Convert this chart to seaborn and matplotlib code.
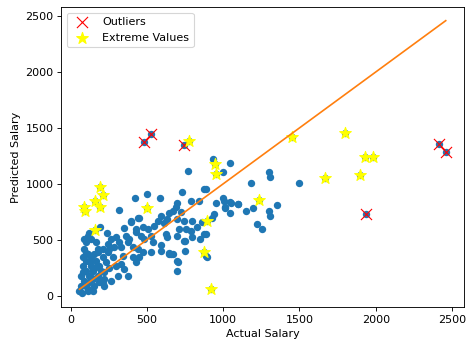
import matplotlib
matplotlib.use("Agg")
import matplotlib.pyplot as plt
import seaborn as sns
import pandas as pd

# Actual vs predicted salary

actual = [
    482, 528, 744, 2413, 2459, 1938,
    774, 195, 212, 162, 195, 86, 92, 162, 500, 897, 875, 918, 946, 955,
    1234, 1448, 1801, 1927, 1979, 1668, 1899,
    936, 1042, 999, 772, 1300, 1306, 1184, 875, 733, 498, 420, 583, 788,
    700, 842, 951, 999, 1005, 1049, 1099, 1010, 1147, 1197, 1300, 1306,
    1219, 1256, 319, 690, 668, 646, 722, 592, 635, 613, 570, 548, 443,
    395, 472, 428, 505, 348, 700, 744, 755, 711, 799, 831, 788, 864, 875,
    799, 700, 744, 635, 624, 526, 482, 461, 428, 384, 363, 297, 319, 286,
    374, 406, 439, 472, 526, 592, 646, 657, 700, 700, 428, 406, 341, 330,
    352, 374, 308, 265, 221, 276, 243, 232, 221,
    112, 134, 101, 90, 112, 134, 167, 178, 156, 167, 188, 199, 178, 145,
    123, 90, 69, 58, 75, 101, 80, 101, 134, 145, 123, 156, 188, 221, 210,
    210, 243, 265, 80, 80, 112, 145, 167, 90, 69, 101,
    398, 448, 195, 121, 897, 707, 750, 646, 668, 846, 750, 592, 537, 450,
    1042, 1097, 1350, 1042, 1012, 940, 925, 886, 886, 886, 1500,
    125, 150, 240, 260, 300, 330, 210, 180, 250, 100, 140, 115,
]
predicted = [
    1370, 1446, 1345, 1354, 1289, 727,
    1381, 968, 899, 843, 795, 790, 760, 587, 781, 664, 387, 60, 1176, 1087,
    854, 1423, 1453, 1236, 1241, 1051, 1080,
    1220, 1190, 1102, 1111, 1102, 1057, 1004, 953, 923, 908, 875, 870, 848,
    825, 848, 825, 878, 848, 825, 819, 789, 759, 783, 759, 714,
    640, 595, 768, 789, 759, 738, 745, 709, 685, 646, 670, 620, 697,
    670, 611, 596, 596, 602, 685, 670, 596, 596, 670, 611, 580, 655, 551,
    521, 536, 491, 521, 551, 536, 506, 536, 566, 506, 536, 521, 476, 432,
    476, 432, 417, 387, 387, 402, 372, 372, 313, 223, 298, 343, 357, 283,
    238, 179, 179, 134, 89, 343, 387, 298, 209,
    536, 506, 476, 417, 372, 343, 476, 417, 372, 313, 268, 223, 179, 149,
    119, 134, 89, 45, 20, 223, 268, 313, 268, 223, 179, 89, 119, 149, 343,
    417, 461, 506, 343, 209, 45, 45, 253, 506, 179, 89,
    661, 691, 611, 560, 343, 304, 402, 381, 372, 506, 491, 453, 476, 343,
    834, 819, 813, 736, 780, 729, 691, 551, 357, 953, 1009,
    300, 230, 560, 430, 270, 440, 110, 390, 250, 380, 160, 60,
]

outlier_x = [482, 528, 744, 2413, 2459, 1938]
outlier_y = [1370, 1446, 1345, 1354, 1289, 727]

extreme_x = [774, 195, 212, 162, 195, 86, 92, 162, 500, 897, 875, 918, 946, 955,
             1234, 1448, 1801, 1927, 1979, 1668, 1899]
extreme_y = [1381, 968, 899, 843, 795, 790, 760, 587, 781, 664, 387, 60, 1176, 1087,
             854, 1423, 1453, 1236, 1241, 1051, 1080]

df = pd.DataFrame({"actual": actual, "predicted": predicted})

fig = plt.figure(figsize=(474 / 80, 351 / 80), dpi=80)
ax = fig.add_subplot(111)
fig.subplots_adjust(left=0.129, right=0.979, bottom=0.125, top=0.980)

sns.scatterplot(data=df, x="actual", y="predicted", color="#1f77b4",
                s=44, linewidth=0, ax=ax)

lo, hi = min(actual), max(actual)
sns.lineplot(x=[lo, hi], y=[lo, hi], color="#ff7f0e", linewidth=1.5, ax=ax)

ax.scatter(outlier_x, outlier_y, marker="x", color="red", s=100,
           linewidths=1.0, label="Outliers")
ax.scatter(extreme_x, extreme_y, marker="*", color="yellow", s=120,
           label="Extreme Values")

ax.set_yticks([0, 500, 1000, 1500, 2000, 2500])
ax.set_xticks([0, 500, 1000, 1500, 2000, 2500])
ax.set_xlabel("Actual Salary")
ax.set_ylabel("Predicted Salary")
ax.legend(loc="upper left")

fig.savefig("out.png", dpi=80)
